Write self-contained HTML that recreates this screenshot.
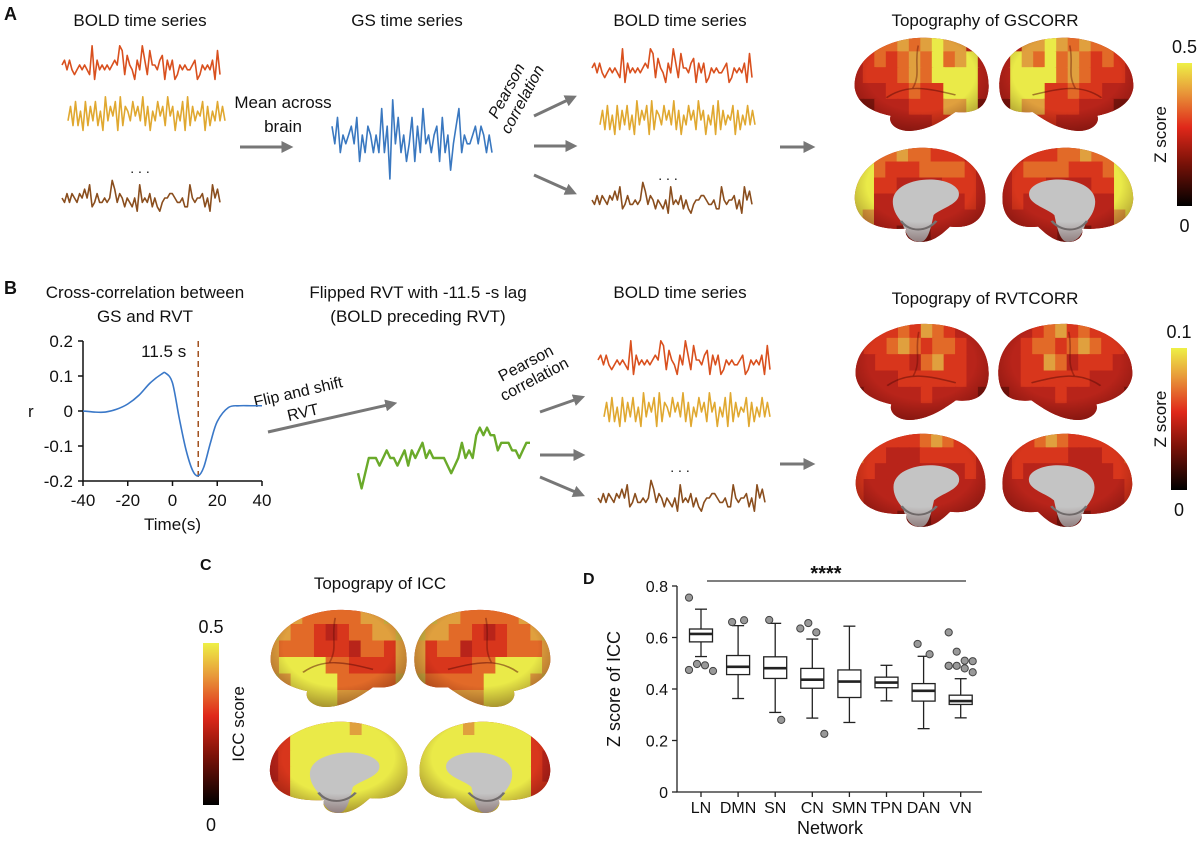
<!DOCTYPE html>
<html><head><meta charset="utf-8"><style>
body{margin:0;background:#fff}
svg text{font-family:"Liberation Sans",Arial,sans-serif;fill:#111}
</style></head><body>
<svg id="fig" width="1200" height="840" viewBox="0 0 1200 840" xmlns="http://www.w3.org/2000/svg">
<defs>
<linearGradient id="cbar" x1="0" y1="1" x2="0" y2="0">
<stop offset="0" stop-color="#000"/><stop offset="0.3" stop-color="#7a1208"/><stop offset="0.55" stop-color="#e0281a"/><stop offset="0.8" stop-color="#e89a3a"/><stop offset="1" stop-color="#eef046"/>
</linearGradient>
<radialGradient id="shade" cx="0.5" cy="0.4" r="0.6">
<stop offset="0.65" stop-color="#300" stop-opacity="0"/><stop offset="1" stop-color="#300" stop-opacity="0.35"/>
</radialGradient>
<marker id="ah" markerWidth="4" markerHeight="4" refX="2.2" refY="2" orient="auto" markerUnits="strokeWidth"><path d="M0,0 L4,2 L0,4 Z" fill="#777"/></marker>
</defs>
<g id="static">
<text x="4" y="20" font-size="18" font-weight="bold">A</text>
<text x="140" y="26" font-size="17" text-anchor="middle">BOLD time series</text>
<text x="407" y="26" font-size="17" text-anchor="middle">GS time series</text>
<text x="680" y="26" font-size="17" text-anchor="middle">BOLD time series</text>
<text x="985" y="26" font-size="17" text-anchor="middle">Topography of GSCORR</text>
<text x="283" y="108" font-size="17" text-anchor="middle">Mean across</text>
<text x="283" y="132" font-size="17" text-anchor="middle">brain</text>
<text x="140" y="173" font-size="14" text-anchor="middle">. . .</text>
<text x="668" y="180" font-size="14" text-anchor="middle">. . .</text>
<g transform="translate(520,98) rotate(-62)"><text x="0" y="-10" font-size="16" font-style="italic" text-anchor="middle">Pearson</text><text x="0" y="8" font-size="16" font-style="italic" text-anchor="middle">correlation</text></g>
<text x="4" y="294" font-size="18" font-weight="bold">B</text>
<text x="145" y="298" font-size="17" text-anchor="middle">Cross-correlation between</text>
<text x="145" y="322" font-size="17" text-anchor="middle">GS and RVT</text>
<text x="418" y="298" font-size="17" text-anchor="middle">Flipped RVT with -11.5 -s lag</text>
<text x="418" y="322" font-size="17" text-anchor="middle">(BOLD preceding RVT)</text>
<text x="680" y="298" font-size="17" text-anchor="middle">BOLD time series</text>
<text x="985" y="304" font-size="17" text-anchor="middle">Topograpy of RVTCORR</text>
<g transform="rotate(-13 300 400)"><text x="300" y="397" font-size="16" text-anchor="middle">Flip and shift</text><text x="300" y="418" font-size="16" text-anchor="middle">RVT</text></g>
<g transform="translate(532,375) rotate(-28)"><text x="0" y="-8" font-size="16" text-anchor="middle">Pearson</text><text x="0" y="10" font-size="16" text-anchor="middle">correlation</text></g>
<text x="680" y="472" font-size="14" text-anchor="middle">. . .</text>
<text x="200" y="570" font-size="16" font-weight="bold">C</text>
<text x="380" y="589" font-size="17" text-anchor="middle">Topograpy of ICC</text>
<text x="583" y="584" font-size="16" font-weight="bold">D</text>
<text x="826" y="580" font-size="20" text-anchor="middle" font-weight="bold">****</text>
<line x1="707" y1="581" x2="966" y2="581" stroke="#555" stroke-width="1.5"/>
</g>
<g id="arrows" stroke="#777" stroke-width="3" fill="none">
<line x1="240" y1="147" x2="288" y2="147" marker-end="url(#ah)"/>
<line x1="534" y1="116" x2="572" y2="98" marker-end="url(#ah)"/>
<line x1="534" y1="146" x2="572" y2="146" marker-end="url(#ah)"/>
<line x1="534" y1="175" x2="572" y2="192" marker-end="url(#ah)"/>
<line x1="780" y1="147" x2="810" y2="147" marker-end="url(#ah)"/>
<line x1="268" y1="432" x2="392" y2="404" marker-end="url(#ah)"/>
<line x1="540" y1="412" x2="580" y2="398" marker-end="url(#ah)"/>
<line x1="540" y1="455" x2="580" y2="455" marker-end="url(#ah)"/>
<line x1="540" y1="477" x2="580" y2="494" marker-end="url(#ah)"/>
<line x1="780" y1="464" x2="810" y2="464" marker-end="url(#ah)"/>
</g>
<g id="dyn"></g>
</svg>
<script>
const NS='http://www.w3.org/2000/svg';
const dyn=document.getElementById('dyn');
function mk(tag,attrs,parent){const e=document.createElementNS(NS,tag);for(const k in attrs)e.setAttribute(k,attrs[k]);(parent||dyn).appendChild(e);return e;}

/* ---------- schematic time series (digits = amplitude levels) ---------- */
const seriesOrange="5646434545439264545456598375426496385546726462354544562354546283";
const seriesYellow="4738362837483629475829376485749372648573957264829374658273648474";
const seriesBrown ="5464654657583464454597465354352845463532455665445338545563528574";
const seriesBlue  ="64735456472536535383609473524726384535627351468354456465353";
const seriesGreen ="3135554565545646567565555434575658989886777665677";
function trace(str,x0,x1,yMid,amp,color,name,w){
  const n=str.length;let d='';
  for(let i=0;i<n;i++){const v=+str[i];const x=x0+(x1-x0)*i/(n-1);const y=yMid-(v-5)/5*amp;d+=(i?'L':'M')+x.toFixed(1)+','+y.toFixed(1);}
  const p=mk('path',{d:d,fill:'none',stroke:color,'stroke-width':w||1.6,'stroke-linejoin':'round'});
  
  
}
trace(seriesOrange,62,220,65,24,'#d9501e','bold-trace-orange');
trace(seriesYellow,68,225,116,24,'#e0a830','bold-trace-yellow');
trace(seriesBrown,62,220,198,22,'#8a4e1e','bold-trace-brown');
trace(seriesBlue,332,492,135,44,'#3a78c0','gs-trace-blue');
trace(seriesOrange,592,752,68,24,'#d9501e','bold-trace-orange-2');
trace(seriesYellow,600,755,120,24,'#e0a830','bold-trace-yellow-2');
trace(seriesBrown,592,752,200,22,'#8a4e1e','bold-trace-brown-2');
trace(seriesGreen,358,530,458,38,'#6aaa2a','rvt-trace-green',2.4);
trace(seriesOrange,598,770,360,24,'#d9501e','bold-trace-orange-b');
trace(seriesYellow,604,770,412,24,'#e0a830','bold-trace-yellow-b');
trace(seriesBrown,598,765,498,22,'#8a4e1e','bold-trace-brown-b');

/* ---------- Panel B cross-correlation chart ---------- */
const lagTimes=[-40,-35,-30,-25,-20,-15,-10,-5,-3,0,3,6,9,11.5,14,17,20,25,30,35,40];
const lagR=[0,-0.003,-0.003,0.005,0.02,0.045,0.08,0.105,0.108,0.08,-0.02,-0.11,-0.17,-0.185,-0.16,-0.09,-0.03,0.01,0.015,0.015,0.015];
const xTicksB=[-40,-20,0,20,40];
const yTicksB=[0.2,0.1,0,-0.1,-0.2];
const peakLag=11.5;
const bx=t=>83+(t+40)/80*179, by=r=>411-r/0.2*70;
(function(){
  const g=mk('g',{});
  
  
  const ax=mk('path',{d:`M${bx(-40)},${by(0.2)} L${bx(-40)},${by(-0.2)} L${bx(40)},${by(-0.2)}`,fill:'none',stroke:'#111','stroke-width':1.5},g);
  
  
  yTicksB.forEach(v=>{
    mk('line',{x1:bx(-40)-5,x2:bx(-40),y1:by(v),y2:by(v),stroke:'#111','stroke-width':1.5},g);
    const t=mk('text',{x:bx(-40)-10,y:by(v)+6,'font-size':17,'text-anchor':'end'},g);t.textContent=String(v);
    
    
  });
  xTicksB.forEach(v=>{
    mk('line',{x1:bx(v),x2:bx(v),y1:by(-0.2),y2:by(-0.2)+5,stroke:'#111','stroke-width':1.5},g);
    const t=mk('text',{x:bx(v),y:by(-0.2)+25,'font-size':17,'text-anchor':'middle'},g);t.textContent=String(v);
    
    
  });
  const rl=mk('text',{x:28,y:by(0)+6,'font-size':17},g);rl.textContent='r';
  
  
  const tl=mk('text',{x:bx(0),y:530,'font-size':17,'text-anchor':'middle'},g);tl.textContent='Time(s)';
  
  
  const dl=mk('line',{x1:bx(peakLag),x2:bx(peakLag),y1:by(0.2),y2:by(-0.2),stroke:'#a0501e','stroke-width':1.5,'stroke-dasharray':'6,4'},g);
  
  
  const pl=mk('text',{x:bx(peakLag)-12,y:by(0.2)+16,'font-size':17,'text-anchor':'end'},g);pl.textContent=peakLag+' s';
  
  
  const P=lagTimes.map((t,i)=>[bx(t),by(lagR[i])]);
  let d='M'+P[0].join(',');
  for(let i=0;i<P.length-1;i++){const p0=P[i-1]||P[i],p1=P[i],p2=P[i+1],p3=P[i+2]||p2;
    d+=` C${p1[0]+(p2[0]-p0[0])/6},${p1[1]+(p2[1]-p0[1])/6} ${p2[0]-(p3[0]-p1[0])/6},${p2[1]-(p3[1]-p1[1])/6} ${p2[0]},${p2[1]}`;}
  const c=mk('path',{d:d,fill:'none',stroke:'#3a78c8','stroke-width':1.6},g);
  
  
})();

/* ---------- Brain surfaces ---------- */
const pal=['#7e160e','#b8241a','#d8361c','#e26a28','#e0a03e','#eaea48','#c8b040'];
const mapALat=["113343454411","123234353451","122234355551","111223225551","001112224450","000111122100"];
const mapAMed=["543343322211","553222333321","552211112221","551111111121","541111111111","441100011110"];
const mapBLat=["112232432111","122343233211","112221342211","111122222211","011111211110","001111111000"];
const mapBMed=["332222343221","322111222221","221111111121","211111111111","211111111111","111100011100"];
const mapCLat=["664333334466","643321233446","433322213324","455553322224","645555333336","666555444466"];
const mapCMed=["225555545555","225555555555","125555555555","125555555555","225555555555","445555555555"];
let clipId=0;
function brain(x,y,w,h,mirror,medial,map,name){
  const lat="M0.02,0.55 C0.0,0.2 0.3,0.0 0.55,0.02 C0.85,0.03 1.0,0.25 0.99,0.55 C0.98,0.75 0.9,0.82 0.75,0.8 C0.65,0.9 0.55,0.99 0.42,1.0 C0.32,1.0 0.26,0.92 0.28,0.84 C0.15,0.8 0.04,0.72 0.02,0.55 Z";
  const med="M0.02,0.55 C0.02,0.2 0.3,0.0 0.55,0.02 C0.85,0.04 1.0,0.3 0.98,0.6 C0.96,0.8 0.85,0.86 0.72,0.84 C0.66,0.92 0.6,1.0 0.5,1.0 C0.42,1.0 0.38,0.92 0.4,0.86 C0.2,0.88 0.03,0.8 0.02,0.55 Z";
  const g=mk('g',{transform:`translate(${mirror?x+w:x},${y}) scale(${mirror?-w:w},${h})`});
  
  
  const id='bc'+(clipId++);
  const cp=mk('clipPath',{id:id},g);mk('path',{d:medial?med:lat},cp);
  const inner=mk('g',{'clip-path':`url(#${id})`},g);
  mk('rect',{x:0,y:0,width:1,height:1,fill:pal[1]},inner);
  const rows=map.length,cols=map[0].length;
  for(let r=0;r<rows;r++)for(let c=0;c<cols;c++){
    mk('rect',{x:c/cols-0.005,y:r/rows-0.005,width:1/cols+0.01,height:1/rows+0.01,fill:pal[+map[r][c]]},inner);
  }
  if(medial){
    mk('path',{d:'M0.3,0.58 C0.3,0.32 0.7,0.28 0.78,0.46 C0.82,0.6 0.66,0.64 0.6,0.72 C0.58,0.85 0.56,1.0 0.5,1.0 C0.42,1.0 0.39,0.9 0.37,0.8 C0.32,0.72 0.3,0.65 0.3,0.58 Z',fill:'#c4c4c4'},inner);
    mk('path',{d:'M0.36,0.78 C0.42,0.9 0.55,0.9 0.62,0.78',fill:'none',stroke:'#777','stroke-width':0.02},inner);
  } else {
    mk('path',{d:'M0.25,0.65 C0.4,0.5 0.55,0.55 0.75,0.62',fill:'none',stroke:'#5a0a06','stroke-width':0.015,opacity:0.5},inner);
    mk('path',{d:'M0.48,0.1 C0.45,0.3 0.5,0.4 0.44,0.55',fill:'none',stroke:'#5a0a06','stroke-width':0.012,opacity:0.4},inner);
  }
  mk('rect',{x:0,y:0,width:1,height:1,fill:'url(#shade)'},inner);
}
brain(852,36,138,95,false,false,mapALat,'brain-a-lateral-left');
brain(998,36,138,95,true,false,mapALat,'brain-a-lateral-right');
brain(852,146,136,96,false,true,mapAMed,'brain-a-medial-left');
brain(1000,146,136,96,true,true,mapAMed,'brain-a-medial-right');
brain(853,322,137,98,false,false,mapBLat,'brain-b-lateral-left');
brain(997,322,138,98,true,false,mapBLat,'brain-b-lateral-right');
brain(853,432,135,95,false,true,mapBMed,'brain-b-medial-left');
brain(1000,432,135,95,true,true,mapBMed,'brain-b-medial-right');
brain(268,608,140,99,false,false,mapCLat,'brain-c-lateral-left');
brain(413,608,140,99,true,false,mapCLat,'brain-c-lateral-right');
brain(267,720,143,93,false,true,mapCMed,'brain-c-medial-left');
brain(417,720,136,93,true,true,mapCMed,'brain-c-medial-right');

function colorbar(x,y,w,h,top,bot,title,tx,name){
  const r=mk('rect',{x:x,y:y,width:w,height:h,fill:'url(#cbar)'});
  
  
  const a=mk('text',{x:x+w/2,y:y-10,'font-size':18,'text-anchor':'middle'});a.textContent=top;
  
  
  const b=mk('text',{x:x+w/2,y:y+h+26,'font-size':18,'text-anchor':'middle'});b.textContent=bot;
  
  
  const t=mk('text',{x:0,y:0,'font-size':17,'text-anchor':'middle',transform:`translate(${tx},${y+h/2}) rotate(-90)`});t.textContent=title;
  
  
}
colorbar(1177,63,15,143,'0.5','0','Z score',1166,'colorbar-a');
colorbar(1171,348,16,142,'0.1','0','Z score',1166,'colorbar-b');
colorbar(203,643,16,162,'0.5','0','ICC score',244,'colorbar-c');

/* ---------- Panel D box plot ---------- */
const networks=['LN','DMN','SN','CN','SMN','TPN','DAN','VN'];
const whiskLo=[0.526,0.363,0.309,0.287,0.27,0.354,0.246,0.288];
const q1=[0.583,0.456,0.441,0.403,0.367,0.405,0.353,0.34];
const med=[0.614,0.486,0.481,0.436,0.429,0.425,0.393,0.353];
const q3=[0.633,0.53,0.525,0.48,0.474,0.446,0.421,0.376];
const whiskHi=[0.71,0.646,0.655,0.594,0.644,0.492,0.527,0.44];
const outliers=[[0.755,0.497,0.492,0.47,0.474],[0.66,0.667],[0.668,0.28],[0.635,0.656,0.62,0.226],[],[],[0.575,0.535],[0.62,0.545,0.51,0.508,0.49,0.49,0.48,0.465,0.49]];
const yTicksD=[0,0.2,0.4,0.6,0.8];
const dx=i=>701+i*37.1, dy=v=>792-v/0.8*206;
(function(){
  const g=mk('g',{});
  
  
  const ax=mk('path',{d:`M677,${dy(0.8)} L677,${dy(0)} L982,${dy(0)}`,fill:'none',stroke:'#222','stroke-width':1.3},g);
  
  
  yTicksD.forEach(v=>{
    mk('line',{x1:672,x2:677,y1:dy(v),y2:dy(v),stroke:'#222','stroke-width':1.3},g);
    const t=mk('text',{x:668,y:dy(v)+6,'font-size':16,'text-anchor':'end'},g);t.textContent=String(v);
    
    
  });
  const yt=mk('text',{x:0,y:0,'font-size':18,'text-anchor':'middle',transform:`translate(620,${dy(0.4)}) rotate(-90)`},g);yt.textContent='Z score of ICC';
  
  
  const xt=mk('text',{x:830,y:834,'font-size':18,'text-anchor':'middle'},g);xt.textContent='Network';
  
  
  networks.forEach((n,i)=>{
    const x=dx(i),hw=11.5;
    mk('line',{x1:x,x2:x,y1:dy(0),y2:dy(0)+5,stroke:'#222','stroke-width':1.3},g);
    const lb=mk('text',{x:x,y:813,'font-size':16,'text-anchor':'middle'},g);lb.textContent=n;
    
    
    const bg=mk('g',{stroke:'#222','stroke-width':1.3,fill:'#fff'},g);
    
    
    mk('line',{x1:x,x2:x,y1:dy(whiskHi[i]),y2:dy(q3[i])},bg);
    mk('line',{x1:x,x2:x,y1:dy(q1[i]),y2:dy(whiskLo[i])},bg);
    mk('line',{x1:x-6,x2:x+6,y1:dy(whiskHi[i]),y2:dy(whiskHi[i])},bg);
    mk('line',{x1:x-6,x2:x+6,y1:dy(whiskLo[i]),y2:dy(whiskLo[i])},bg);
    mk('rect',{x:x-hw,y:dy(q3[i]),width:2*hw,height:dy(q1[i])-dy(q3[i])},bg);
    mk('line',{x1:x-hw,x2:x+hw,y1:dy(med[i]),y2:dy(med[i]),'stroke-width':2.6},bg);
    outliers[i].forEach((v,k)=>{
      const off=outliers[i].length>2?((k%4)-1.5)*8:(k-0.5)*(outliers[i].length>1?12:0);
      const c=mk('circle',{cx:x+off,cy:dy(v),r:3.6,fill:'#999',stroke:'#444','stroke-width':1},g);
      
      
    });
  });
})();
</script>
</body></html>
